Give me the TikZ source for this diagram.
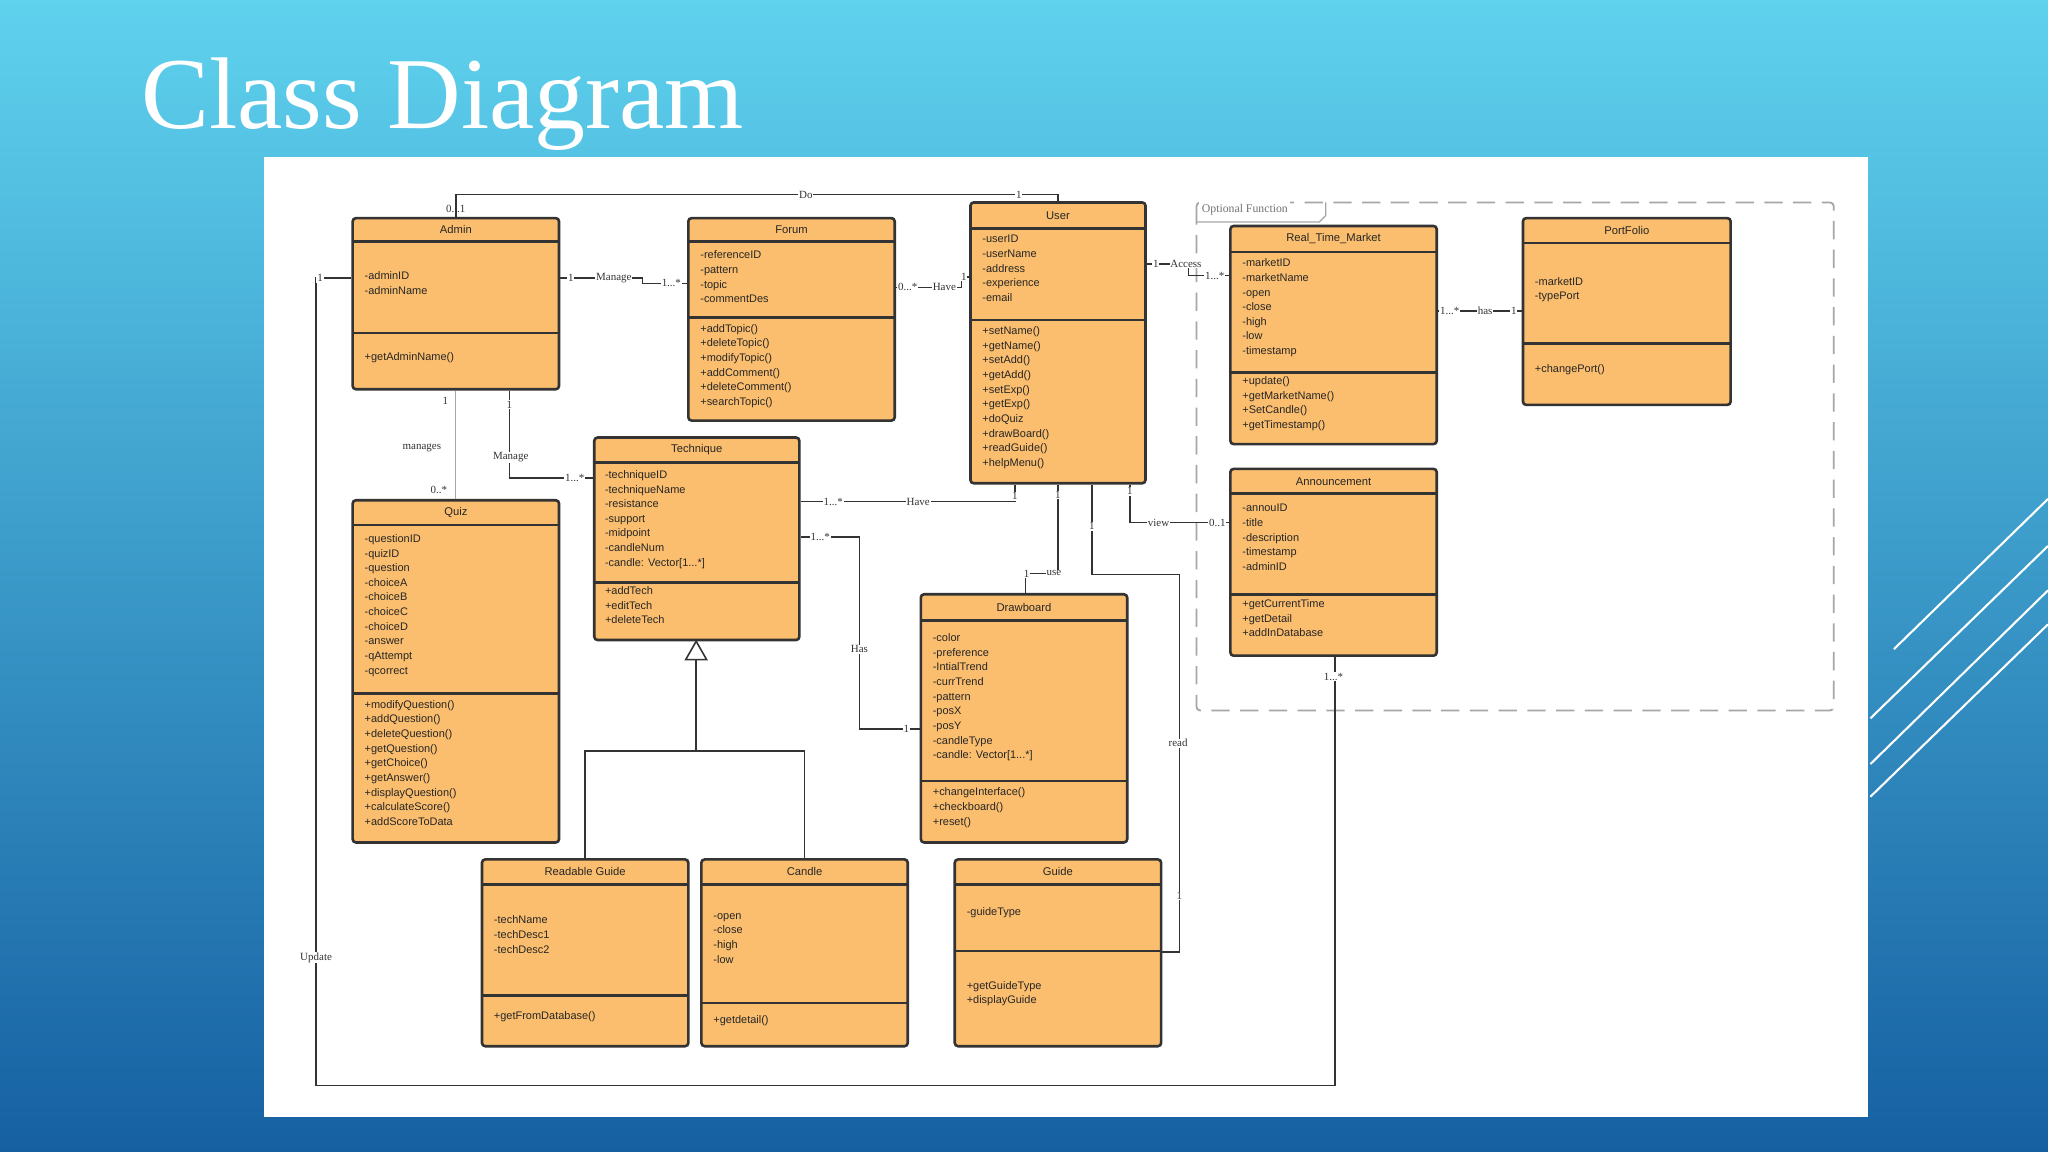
\documentclass[tikz,border=0pt]{standalone}
\usepackage{fontspec}
\setmainfont{Liberation Serif}
\newfontfamily\ssf{Liberation Sans}
\usetikzlibrary{fit,arrows.meta}
\definecolor{clsfill}{HTML}{FBBE6E}
\definecolor{clsline}{HTML}{333333}
\definecolor{bgtop}{HTML}{5FD2EE}
\definecolor{bgbot}{HTML}{1660A2}
\tikzset{
 cbox/.style={draw=clsline,line width=2pt,fill=clsfill,rounded corners=2.5pt,inner sep=0pt},
 sepl/.style={draw=clsline,line width=2pt},
 ctitle/.style={font=\ssf\fontsize{8.6}{10}\selectfont,text=black!85},
 ctxt/.style={font=\ssf\fontsize{8.4}{11.2}\selectfont,align=left,anchor=north west,inner sep=0pt,text=black!85},
 conn/.style={draw=black!80,line width=1.2pt},
 lab/.style={font=\fontsize{8.4}{9}\selectfont,fill=white,inner sep=0.6pt,text=black!80},
 labn/.style={font=\fontsize{8.4}{9}\selectfont,inner sep=0.6pt,text=black!80},
 deco/.style={draw=white,line width=1.6pt},
}
\newcommand\ubox[8]{%
 \node[cbox,fit={(#2,#3)(#4,#5)}] (#1) {};
 \draw[sepl] (#2,#6) -- (#4,#6);
 \draw[sepl] (#2,#7) -- (#4,#7);
 \node[ctitle] at ({(#2+#4)/2},{(#3+#6)/2}) {#8};}
\begin{document}
\begin{tikzpicture}[x=1pt,y=-1pt]
\useasboundingbox (0,0) rectangle (1568,882);
\shade[top color=bgtop,bottom color=bgbot] (0,0) rectangle (1568,882);
\node[anchor=west,text=white,font=\fontsize{78}{80}\selectfont,inner sep=0] (title) at (108,80) {Class Diagram};
\draw[deco] (1432,610) -- (1568,478);
\draw[deco] (1432,585) -- (1568,452);
\draw[deco] (1450,497) -- (1568,382);
\draw[deco] (1432,550) -- (1568,418);
\fill[white] (202,120) rectangle (1430,855);
% optional function box
\draw[gray!70,line width=1.4pt,dash pattern=on 14pt off 8pt,rounded corners=3pt] (916,155) rectangle (1404,544);
\node[font=\fontsize{9}{10}\selectfont,text=gray!90!black,fill=white,inner sep=2pt,anchor=north west] (opt) at (918,154) {Optional Function};
\draw[gray!70,line width=1pt] (916,170) -- (1010,170) -- (1015,165) -- (1015,155);
% classes
\ubox{admin}{270}{167}{428}{298}{185}{255}{Admin}
\node[ctxt] at (279,208) {-adminID\\-adminName};
\node[ctxt] at (279,270) {+getAdminName()};
\ubox{forum}{527}{167}{685}{322}{185}{243}{Forum}
\node[ctxt] at (536,192) {-referenceID\\-pattern\\-topic\\-commentDes};
\node[ctxt] at (536,248) {+addTopic()\\+deleteTopic()\\+modifyTopic()\\+addComment()\\+deleteComment()\\+searchTopic()};
\ubox{user}{743}{155}{877}{370}{175}{245}{User}
\node[ctxt] at (752,180) {-userID\\-userName\\-address\\-experience\\-email};
\node[ctxt] at (752,250) {+setName()\\+getName()\\+setAdd()\\+getAdd()\\+setExp()\\+getExp()\\+doQuiz\\+drawBoard()\\+readGuide()\\+helpMenu()};
\ubox{tech}{455}{335}{612}{490}{354}{446}{Technique}
\node[ctxt] at (463,360) {-techniqueID\\-techniqueName\\-resistance\\-support\\-midpoint\\-candleNum\\-candle: Vector[1...*]};
\node[ctxt] at (463,449) {+addTech\\+editTech\\+deleteTech};
\ubox{quiz}{270}{383}{428}{645}{402}{531}{Quiz}
\node[ctxt] at (279,409) {-questionID\\-quizID\\-question\\-choiceA\\-choiceB\\-choiceC\\-choiceD\\-answer\\-qAttempt\\-qcorrect};
\node[ctxt] at (279,536) {+modifyQuestion()\\+addQuestion()\\+deleteQuestion()\\+getQuestion()\\+getChoice()\\+getAnswer()\\+displayQuestion()\\+calculateScore()\\+addScoreToData};
\ubox{draw}{705}{455}{863}{645}{475}{598}{Drawboard}
\node[ctxt] at (714,485) {-color\\-preference\\-IntialTrend\\-currTrend\\-pattern\\-posX\\-posY\\-candleType\\-candle: Vector[1...*]};
\node[ctxt] at (714,603) {+changeInterface()\\+checkboard()\\+reset()};
\ubox{readg}{369}{658}{527}{801}{677}{762}{Readable Guide}
\node[ctxt] at (378,701) {-techName\\-techDesc1\\-techDesc2};
\node[ctxt] at (378,774) {+getFromDatabase()};
\ubox{candle}{537}{658}{695}{801}{677}{768}{Candle}
\node[ctxt] at (546,699) {-open\\-close\\-high\\-low};
\node[ctxt] at (546,777) {+getdetail()};
\ubox{guide}{731}{658}{889}{801}{677}{728}{Guide}
\node[ctxt] at (740,695) {-guideType};
\node[ctxt] at (740,751) {+getGuideType\\+displayGuide};
\ubox{rtm}{942}{173}{1100}{340}{193}{285}{Real\_Time\_Market}
\node[ctxt] at (951,198) {-marketID\\-marketName\\-open\\-close\\-high\\-low\\-timestamp};
\node[ctxt] at (951,288) {+update()\\+getMarketName()\\+SetCandle()\\+getTimestamp()};
\ubox{port}{1166}{167}{1325}{310}{186}{263}{PortFolio}
\node[ctxt] at (1175,212) {-marketID\\-typePort};
\node[ctxt] at (1175,279) {+changePort()};
\ubox{ann}{942}{359}{1100}{502}{378}{455}{Announcement}
\node[ctxt] at (951,386) {-annouID\\-title\\-description\\-timestamp\\-adminID};
\node[ctxt] at (951,459) {+getCurrentTime\\+getDetail\\+addInDatabase};
% connectors
\draw[conn] (admin.north -| 349,0) -- (349,149) -- (810,149) -- (user.north -| 810,0);
\node[lab] at (617,149) {Do}; \node[labn] at (349,160) {0...1}; \node[lab] at (780,149) {1};
\draw[conn] (admin.east |- 0,213) -- (492,213) -- (492,217) -- (forum.west |- 0,217);
\node[lab] at (437,213) {1}; \node[lab] at (470,213) {Manage}; \node[lab] at (514,217) {1...*};
\draw[conn] (forum.east |- 0,220) -- (736,220) -- (736,212) -- (user.west |- 0,212);
\node[lab] at (695,220) {0...*}; \node[lab] at (723,220) {Have}; \node[lab] at (738,212) {1};
\draw[conn] (user.east |- 0,202) -- (910,202) -- (910,211) -- (rtm.west |- 0,211);
\node[lab] at (885,202) {1}; \node[lab] at (908,202) {Access}; \node[lab] at (930,211) {1...*};
\draw[conn] (rtm.east |- 0,238) -- (port.west |- 0,238);
\node[lab] at (1110,238) {1...*}; \node[lab] at (1137,238) {has}; \node[lab] at (1159,238) {1};
\draw[draw=gray!70,line width=0.7pt] (admin.south -| 349,0) -- (quiz.north -| 349,0);
\node[labn] at (341,307) {1}; \node[labn] at (323,343) {manages}; \node[labn] at (336,375) {0..*};
\draw[conn] (admin.south -| 390,0) -- (390,366) -- (tech.west |- 0,366);
\node[lab] at (390,310) {1}; \node[lab] at (391,350) {Manage}; \node[lab] at (440,366) {1...*};
\draw[conn] (tech.east |- 0,384) -- (777,384) -- (user.south -| 777,0);
\node[lab] at (638,384) {1...*}; \node[lab] at (703,384) {Have}; \node[lab] at (777,380) {1};
\draw[conn] (tech.east |- 0,411) -- (658,411) -- (658,558) -- (draw.west |- 0,558);
\node[lab] at (628,411) {1...*}; \node[lab] at (658,497) {Has}; \node[lab] at (694,558) {1};
\draw[conn] (user.south -| 810,0) -- (810,439) -- (785,439) -- (draw.north -| 785,0);
\node[lab] at (810,379) {1}; \node[lab] at (786,439) {1}; \node[lab] at (807,439) {use};
\draw[conn] (user.south -| 865,0) -- (865,400) -- (ann.west |- 0,400);
\node[lab] at (865,376) {1}; \node[lab] at (887,400) {view}; \node[lab] at (932,400) {0..1};
\draw[conn] (user.south -| 836,0) -- (836,440) -- (903,440) -- (903,729) -- (guide.east |- 0,729);
\node[lab] at (836,403) {1}; \node[lab] at (902,569) {read}; \node[lab] at (903,686) {1};
\draw[conn] (admin.west |- 0,213) -- (242,213) -- (242,831) -- (1022,831) -- (ann.south -| 1022,0);
\node[lab] at (245,213) {1}; \node[lab] at (242,733) {Update}; \node[lab] at (1021,518) {1...*};
\draw[conn] (readg.north -| 448,0) -- (448,575) -- (616,575) -- (candle.north -| 616,0);
\draw[conn] (533,575) -- (533,505);
\draw[conn,fill=white] (tech.south -| 533,0) -- (525,505) -- (541,505) -- cycle;
\end{tikzpicture}
\end{document}
